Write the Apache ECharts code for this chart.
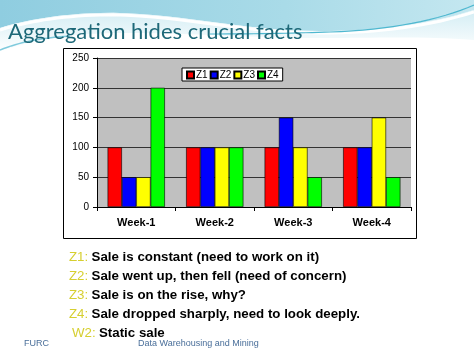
<!DOCTYPE html>
<html>
<head>
<meta charset="utf-8">
<script src="https://cdn.jsdelivr.net/npm/echarts@6/dist/echarts.min.js"></script>
<style>
  html, body { margin: 0; padding: 0; background: #fff; }
  #main { width: 474px; height: 355px; }
</style>
</head>
<body>
<div id="main"></div>
<script>
// data
var weeks = ['Week-1', 'Week-2', 'Week-3', 'Week-4'];
var zones = ['Z1', 'Z2', 'Z3', 'Z4'];
var z1 = [100, 100, 100, 100];
var z2 = [50, 100, 150, 100];
var z3 = [50, 100, 100, 150];
var z4 = [200, 100, 50, 50];
var zoneColors = ['#ff0000', '#0000ff', '#ffff00', '#00ff00'];
var notes = [
  ['Z1:', 'Sale is constant (need to work on it)'],
  ['Z2:', 'Sale went up, then fell (need of concern)'],
  ['Z3:', 'Sale is on the rise, why?'],
  ['Z4:', 'Sale dropped sharply, need to look deeply.'],
  ['W2:', 'Static sale']
];

var chart = echarts.init(document.getElementById('main'));

function grad(x2, y2, stops) {
  return { type: 'linear', x: 0, y: 0, x2: x2, y2: y2, colorStops: stops };
}
// sample a chain of cubic segments [x0,y0, c1x,c1y,c2x,c2y,x,y, ...] into points
function curve(p) {
  var pts = [[p[0], p[1]]];
  for (var i = 2; i + 5 < p.length; i += 6) {
    var x0 = pts[pts.length - 1][0], y0 = pts[pts.length - 1][1];
    for (var k = 1; k <= 16; k++) {
      var t = k / 16, u = 1 - t;
      pts.push([
        u * u * u * x0 + 3 * u * u * t * p[i] + 3 * u * t * t * p[i + 2] + t * t * t * p[i + 4],
        u * u * u * y0 + 3 * u * u * t * p[i + 1] + 3 * u * t * t * p[i + 3] + t * t * t * p[i + 5]
      ]);
    }
  }
  return pts;
}
var waveTop = curve([0, 28, 25, 20, 60, 14, 100, 13, 170, 11, 240, 31, 320, 31, 380, 31, 430, 24, 474, 10]);
var waveLow = curve([474, 40, 420, 36, 380, 38, 320, 38, 240, 38, 150, 30, 90, 34, 50, 37, 20, 44, 0, 52]);

// slide decoration + texts
var graphics = [
  {
    type: 'polygon', z: -20, silent: true,
    shape: { points: [[474, 0], [0, 0]].concat(waveTop) },
    style: { fill: grad(1, 0, [
      { offset: 0, color: '#8fcde0' }, { offset: 0.6, color: '#a9dbe8' }, { offset: 1, color: '#c4e7f0' }]) }
  },
  {
    type: 'polygon', z: -20, silent: true,
    shape: { points: waveTop.concat(waveLow) },
    style: { fill: grad(0, 1, [
      { offset: 0, color: '#d3edf4' }, { offset: 1, color: '#ffffff' }]) }
  },
  {
    type: 'polyline', z: -19, silent: true,
    shape: { points: curve([0, 30, 25, 22, 60, 16, 100, 15, 170, 13, 240, 33, 320, 33, 380, 33, 430, 26, 474, 12]) },
    style: { stroke: '#ffffff', lineWidth: 3 }
  },
  {
    type: 'polyline', z: -19, silent: true,
    shape: { points: curve([474, 5, 440, 20, 390, 30, 330, 32, 300, 33, 260, 34, 210, 34]) },
    style: { stroke: '#4fb8d0', lineWidth: 1.2 }
  },
  {
    type: 'polyline', z: -19, silent: true,
    shape: { points: curve([0, 50, 20, 42, 40, 38, 70, 36]) },
    style: { stroke: '#7fcadc', lineWidth: 1.5 }
  },
  {
    type: 'text', z: 5, left: 8, top: 21,
    style: { text: 'Aggregation hides crucial facts', font: '22px Lato', fill: '#1d6878' }
  },
  {
    type: 'rect', z: -10, silent: true,
    shape: { x: 63.5, y: 48.5, width: 353, height: 190 },
    style: { fill: '#ffffff', stroke: '#000000', lineWidth: 1 }
  },
  {
    type: 'text', z: 5, left: 24, top: 339,
    style: { text: 'FURC', font: '9px "Liberation Sans"', fill: '#4a6f9a' }
  },
  {
    type: 'text', z: 5, left: 138, top: 339,
    style: { text: 'Data Warehousing and Mining', font: '9px "Liberation Sans"', fill: '#4a6f9a' }
  }
];
var noteY = [251, 270, 289, 308, 327];
notes.forEach(function (n, i) {
  graphics.push({
    type: 'text', z: 5, left: i === 4 ? 72 : 69, top: noteY[i],
    style: {
      text: '{k|' + n[0] + '} {v|' + n[1] + '}',
      rich: {
        k: { fontSize: 13.3, fontFamily: 'Liberation Sans', fill: '#d6cf30' },
        v: { fontWeight: 'bold', fontSize: 13.3, fontFamily: 'Liberation Sans', fill: '#000' }
      }
    }
  });
});

var seriesData = [z1, z2, z3, z4];
var option = {
  backgroundColor: '#ffffff',
  animation: false,
  textStyle: { fontFamily: 'Liberation Sans' },
  graphic: graphics,
  legend: {
    data: zones,
    left: 182, top: 68,
    backgroundColor: '#ffffff',
    borderColor: '#000000', borderWidth: 1,
    padding: [2, 4, 1, 4],
    itemWidth: 7, itemHeight: 7, itemGap: 2,
    icon: 'rect',
    textStyle: { fontSize: 10, color: '#000', padding: [0, 0, 0, -3] }
  },
  grid: {
    left: 97, right: 63, top: 58, bottom: 148,
    show: true, backgroundColor: '#c0c0c0', borderColor: '#c0c0c0', borderWidth: 0
  },
  xAxis: {
    type: 'category',
    data: weeks,
    axisLine: { lineStyle: { color: '#000', width: 1 } },
    axisTick: { show: true, length: 4, lineStyle: { color: '#000' } },
    axisLabel: { fontWeight: 'bold', fontSize: 11, color: '#000', margin: 10 }
  },
  yAxis: {
    type: 'value',
    min: 0, max: 250, interval: 50,
    axisLine: { show: true, lineStyle: { color: '#000', width: 1 } },
    axisTick: { show: true, length: 4, lineStyle: { color: '#000' } },
    axisLabel: { fontSize: 10, color: '#000', margin: 8 },
    splitLine: { lineStyle: { color: '#333333', width: 1 } }
  },
  series: zones.map(function (name, i) {
    return {
      name: name,
      type: 'bar',
      data: seriesData[i],
      barGap: '0%',
      barCategoryGap: '27%',
      itemStyle: { color: zoneColors[i], borderColor: '#000', borderWidth: 0.6 }
    };
  })
};
chart.setOption(option);
</script>
</body>
</html>
